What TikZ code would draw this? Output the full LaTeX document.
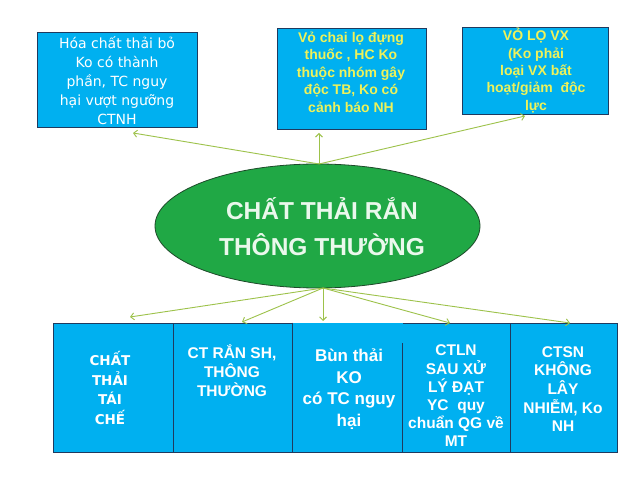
\documentclass[tikz,border=0pt]{standalone}
\usepackage{fontspec}
\setmainfont{Liberation Sans}
\newfontfamily\hum{DejaVu Sans}
\usetikzlibrary{shapes.geometric,arrows.meta,calc}
\definecolor{boxblue}{HTML}{00B0F0}
\definecolor{boxedge}{HTML}{1F3A5F}
\definecolor{ellgreen}{HTML}{20A845}
\definecolor{elledge}{HTML}{1E4A2A}
\definecolor{arrowc}{HTML}{9DC24A}
\definecolor{yel}{HTML}{EEF25A}
\definecolor{elltext}{HTML}{EAF8EC}
\begin{document}
\begin{tikzpicture}[x=1pt,y=-1pt,
  bluebox/.style={rectangle,fill=boxblue,draw=boxedge,line width=0.8pt,inner sep=0pt},
  bluefill/.style={rectangle,fill=boxblue,inner sep=0pt},
  txt/.style={align=center,inner sep=0pt},
  conn/.style={draw=arrowc,line width=0.9pt,-{Straight Barb[length=3.5pt,width=7pt]}}]
\useasboundingbox (0,0) rectangle (638,478);
\fill[white] (0,0) rectangle (638,478);

% top boxes
\node[bluebox,minimum width=160pt,minimum height=95pt] (b1) at (117,80) {};
\node[bluebox,minimum width=149pt,minimum height=101pt] (b2) at (351.5,78.5) {};
\node[bluebox,minimum width=146pt,minimum height=87pt] (b3) at (535,70.5) {};

\node[txt,text=white,font=\hum\fontsize{14}{19}\selectfont] (t1) at (117,81)
 {Hóa chất thải bỏ\\ Ko có thành\\phần, TC nguy\\hại vượt ngưỡng\\CTNH};
\node[txt,text=yel,font=\bfseries\fontsize{14}{17.5}\selectfont] (t2) at (351,72)
 {Vỏ chai lọ đựng\\thuốc , HC Ko\\thuộc nhóm gây\\độc TB, Ko có\\cảnh báo NH};
\node[txt,text=yel,font=\bfseries\fontsize{14}{17.3}\selectfont] (t3) at (536,70.5)
 {VỎ LỌ VX\\ (Ko phải\\loại VX bất\\hoạt/giảm\ \ độc\\lực};

% ellipse
\node[ellipse,fill=ellgreen,draw=elledge,line width=0.8pt,minimum width=325pt,minimum height=124pt,inner sep=0pt] (e) at (317.5,226) {};
\node[txt,text=elltext,font=\bfseries\fontsize{24.5}{36}\selectfont] (te) at (322,227)
 {CHẤT THẢI RẮN\\THÔNG THƯỜNG};

% bottom boxes
\node[bluebox,minimum width=120pt,minimum height=129pt] (ba) at (113,387.5) {};
\node[bluebox,minimum width=119pt,minimum height=129pt] (bb) at (232.5,387.5) {};
\node[bluebox,minimum width=108pt,minimum height=129pt] (bd) at (456,387.5) {};
\node[bluebox,minimum width=107pt,minimum height=129pt] (be) at (563.5,387.5) {};
\node[bluefill,minimum width=110pt,minimum height=129pt] (bc) at (347.5,387.5) {};
\draw[boxedge,line width=0.8pt] (bc.south west) -- (bc.south east);
\draw[boxedge,line width=0.8pt] ($(bc.south east)+(0,-109)$) -- (bc.south east);
\draw[boxedge,line width=0.8pt] (bb.north east) -- (bb.south east);

\node[txt,text=white,font=\hum\bfseries\fontsize{13.5}{19.5}\selectfont] (ta) at (110,388)
 {CHẤT\\THẢI\\TÁI\\CHẾ};
\node[txt,text=white,font=\bfseries\fontsize{15.5}{19}\selectfont] (tb) at (232,371)
 {CT RẮN SH,\\THÔNG\\THƯỜNG};
\node[txt,text=white,font=\bfseries\fontsize{17}{21.5}\selectfont] (tc) at (349,389)
 {Bùn thải\\KO\\có TC nguy\\hại};
\node[txt,text=white,font=\bfseries\fontsize{15.5}{18.2}\selectfont] (td) at (456,396)
 {CTLN\\SAU XỬ\\LÝ ĐẠT\\YC\ \ quy\\chuẩn QG về\\MT};
\node[txt,text=white,font=\bfseries\fontsize{15.5}{18.7}\selectfont] (te2) at (563,389)
 {CTSN\\KHÔNG\\LÂY\\NHIỄM, Ko\\NH};

% connectors
\coordinate (ts) at (319,164);
\coordinate (bs) at (323,288);
\coordinate (e1) at (133,133);
\coordinate (e2) at (319,133);
\coordinate (e3) at (525,116);
\coordinate (ea) at (130,317);
\coordinate (eb) at (242,322);
\coordinate (ec) at (323,321);
\coordinate (ed) at (450,323);
\coordinate (ee) at (570,323);
\draw[conn] (ts) -- (e1);
\draw[conn] (ts) -- (e2);
\draw[conn] (ts) -- (e3);
\draw[conn] (bs) -- (ea);
\draw[conn] (bs) -- (eb);
\draw[conn] (bs) -- (ec);
\draw[conn] (bs) -- (ed);
\draw[conn] (bs) -- (ee);
\end{tikzpicture}
\end{document}
